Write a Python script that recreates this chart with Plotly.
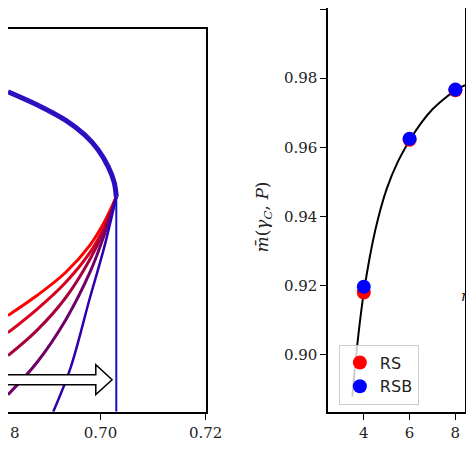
import plotly.graph_objects as go

# left panel curves (x, y in arbitrary units)
top_x = [0.6824, 0.6879, 0.6934, 0.6970, 0.6995, 0.7015, 0.7026, 0.7030]
top_y = [0.837, 0.803, 0.762, 0.724, 0.686, 0.640, 0.600, 0.562]
low_x = [0.6824, 0.6879, 0.6934, 0.6980, 0.7007, 0.7030]
low_y = [
    [0.252, 0.304, 0.365, 0.436, 0.496, 0.562],
    [0.207, 0.268, 0.339, 0.417, 0.483, 0.562],
    [0.147, 0.213, 0.299, 0.399, 0.475, 0.562],
    [0.045, 0.129, 0.241, 0.365, 0.462, 0.562],
]
c5_x = [0.6910, 0.6943, 0.6980, 0.7007, 0.7030]
c5_y = [0.0, 0.115, 0.299, 0.430, 0.562]
vert_x = [0.7030, 0.7030]
vert_y = [0.0, 0.562]
colors = ["#ff0000", "#d8001c", "#a8003c", "#700068", "#3000b0"]

# right panel
P = [4, 6, 8]
rs = [0.918, 0.9622, 0.9765]
rsb = [0.9197, 0.9625, 0.9767]
fit_x = [3.5, 3.7, 4, 4.5, 5, 5.5, 6, 6.5, 7, 7.5, 8, 8.42]
fit_y = [0.888, 0.902, 0.918, 0.936, 0.948, 0.956, 0.962, 0.967, 0.971, 0.974, 0.9765, 0.978]

fig = go.Figure()
for ys, c in zip(low_y, colors):
    fig.add_trace(go.Scatter(x=low_x, y=ys, mode="lines", line=dict(color=c, width=3, shape="spline"),
                             showlegend=False, xaxis="x", yaxis="y"))
fig.add_trace(go.Scatter(x=c5_x, y=c5_y, mode="lines", line=dict(color=colors[4], width=2.5, shape="spline"),
                         showlegend=False, xaxis="x", yaxis="y"))
fig.add_trace(go.Scatter(x=vert_x, y=vert_y, mode="lines", line=dict(color="#1010d0", width=2),
                         showlegend=False, xaxis="x", yaxis="y"))
fig.add_trace(go.Scatter(x=top_x, y=top_y, mode="lines", line=dict(color="#2a10c0", width=5, shape="spline"),
                         showlegend=False, xaxis="x", yaxis="y"))

fig.add_trace(go.Scatter(x=fit_x, y=fit_y, mode="lines", line=dict(color="black", width=2, shape="spline"),
                         showlegend=False, xaxis="x2", yaxis="y2"))
fig.add_trace(go.Scatter(x=P, y=rs, mode="markers", name="RS", marker=dict(color="#ff0000", size=14),
                         xaxis="x2", yaxis="y2"))
fig.add_trace(go.Scatter(x=P, y=rsb, mode="markers", name="RSB", marker=dict(color="#0000ff", size=14),
                         xaxis="x2", yaxis="y2"))

# hollow arrow
fig.add_shape(type="path", xref="x", yref="y", line=dict(color="black", width=1.5), fillcolor="white",
              path="M 0.6810 0.071 L 0.6991 0.071 L 0.6991 0.045 L 0.7022 0.084 L 0.6991 0.123 L 0.6991 0.097 L 0.6810 0.097 Z")

serif = "DejaVu Serif"
tickf = dict(family=serif, size=15, color="#222")
fig.update_layout(
    width=474, height=474, margin=dict(l=0, r=0, t=0, b=0),
    plot_bgcolor="white", paper_bgcolor="white",
    font=dict(family=serif, size=15, color="#222"),
    xaxis=dict(domain=[0, 0.4325], range=[0.6824, 0.72], tickvals=[0.70, 0.72], tickformat=".2f",
               tickfont=tickf, showgrid=False, zeroline=False, showline=True, linecolor="black",
               linewidth=1.5, mirror=True, ticks="outside", ticklen=6, tickcolor="black"),
    yaxis=dict(domain=[0.148, 0.955], range=[0, 1], showticklabels=False, showgrid=False, zeroline=False,
               showline=True, linecolor="black", linewidth=1.5, mirror=True, ticks=""),
    xaxis2=dict(domain=[0.7004, 1], range=[2.44, 8.42], tickvals=[4, 6, 8], anchor="y2", tickfont=tickf,
                showgrid=False, zeroline=False, showline=True, linecolor="black", linewidth=1.5,
                ticks="outside", ticklen=6, tickcolor="black"),
    yaxis2=dict(domain=[0.148, 1.0], range=[0.8835, 1.0003], tickvals=[0.90, 0.92, 0.94, 0.96, 0.98, 1.00],
                tickformat=".2f", anchor="x2", tickfont=tickf, showgrid=False, zeroline=False, showline=True,
                mirror=True, linecolor="black", linewidth=1.5, ticks="outside", ticklen=6, tickcolor="black"),
    legend=dict(x=0.724, y=0.29, xanchor="left", yanchor="top", bgcolor="rgba(255,255,255,0.8)",
                bordercolor="#ccc", borderwidth=1, font=dict(family="DejaVu Sans", size=16)),
)
fig.add_annotation(text="<i>m̄</i>(<i>γ<sub>C</sub></i>, <i>P</i>)", xref="paper", yref="paper", x=0.56, y=0.56,
                   textangle=-90, showarrow=False, font=dict(family=serif, size=17))
fig.add_annotation(text="<i>m̄</i>", xref="x2", yref="y2", x=8.15, y=0.917, showarrow=False, xanchor="left",
                   font=dict(family=serif, size=15))
fig.add_annotation(text="8", xref="paper", yref="paper", x=0, y=0.08, xanchor="left", showarrow=False,
                   font=dict(family=serif, size=15))
fig.write_html("out.html")
